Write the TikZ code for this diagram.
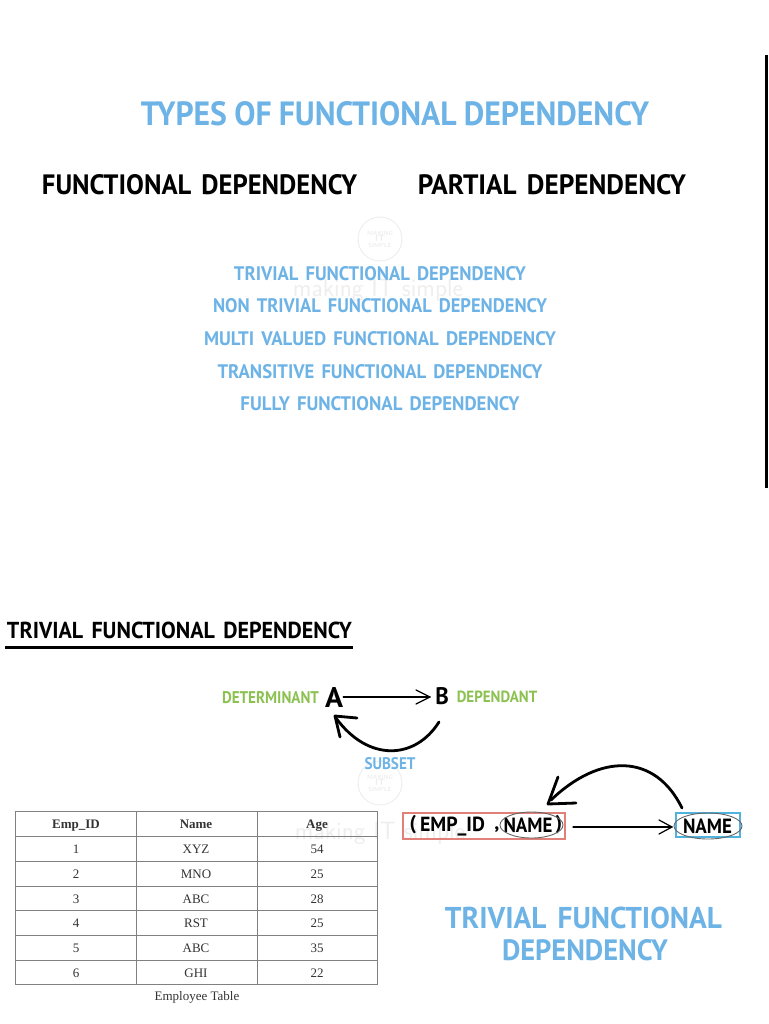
\documentclass[tikz,border=0pt]{standalone}
\usepackage{graphicx}
\usepackage{fontspec}
\setmainfont{Liberation Serif}
\newfontfamily\handfont[WordSpace=1.5]{PT Sans}
\usetikzlibrary{calc,positioning}
\definecolor{skyblue}{HTML}{6DB3E6}
\definecolor{leafgreen}{HTML}{8CC152}
\definecolor{boxred}{HTML}{E08078}
\definecolor{boxblue}{HTML}{4FB3DE}
\definecolor{wmgray}{HTML}{EEEEEE}
% width and cap height of a hand lettered text
\newcommand{\fitbox}[3]{\resizebox{#1pt}{#2pt}{\handfont\bfseries\fontsize{20}{22}\selectfont #3}}
\tikzset{
	hand/.style={font=\handfont\bfseries\fontsize{20}{22}\selectfont,inner sep=0pt,anchor=center},
	bluetext/.style={hand,text=skyblue},
	blacktext/.style={hand,text=black},
	greentext/.style={hand,text=leafgreen},
	cell/.style={font=\fontsize{13}{15}\selectfont,inner sep=0pt,anchor=base,text=black!80},
	headcell/.style={cell,font=\fontsize{13}{15}\selectfont\bfseries},
	grid line/.style={draw=black!50,line width=0.9pt},
	watermark/.style={font=\sffamily\fontsize{25}{27}\selectfont,text=wmgray,inner sep=0pt},
	logo/.style={circle,draw=wmgray,line width=1pt,minimum size=44pt,inner sep=0pt,
		align=center,text=wmgray,font=\sffamily\bfseries\fontsize{6}{7}\selectfont},
	curved/.style={line width=2.8pt,line cap=round,line join=round},
	thin arrow/.style={line width=1.2pt,line cap=round,line join=round},
	ring/.style={black!60,line width=0.9pt}
}
\begin{document}
\begin{tikzpicture}[x=1pt,y=-1pt]
	\useasboundingbox (0,0) rectangle (768,1024);

	% watermarks
	\node[logo] (logoa) at (380,239) {MAKING\\[-1pt]{\fontsize{9}{9}\selectfont IT}\\[-1pt]SIMPLE};
	\node[watermark] (marka) at (378,290) {making IT simple};
	\node[logo] (logob) at (380,783) {MAKING\\[-1pt]{\fontsize{9}{9}\selectfont IT}\\[-1pt]SIMPLE};
	\node[watermark] (markb) at (380,833) {making IT simple};

	% right bar
	\coordinate (bartop) at (766.5,55);
	\coordinate (barend) at (766.5,488);
	\draw[line width=3pt] (bartop) -- (barend);

	% top part
	\node[bluetext] (title) at (395,114) {\fitbox{508}{24}{TYPES\hspace{-3pt} OF\hspace{-3pt} FUNCTIONAL\hspace{-3pt} DEPENDENCY}};
	\node[blacktext] (fd) at (199.5,185) {\fitbox{315}{20}{FUNCTIONAL DEPENDENCY}};
	\node[blacktext] (pd) at (552,185) {\fitbox{268}{20}{PARTIAL DEPENDENCY}};

	\foreach \nm/\yy/\tw/\txt in {
		one/274/292/TRIVIAL FUNCTIONAL DEPENDENCY,
		two/306/334/NON TRIVIAL FUNCTIONAL DEPENDENCY,
		three/339/352/MULTI VALUED FUNCTIONAL DEPENDENCY,
		four/372/325/TRANSITIVE FUNCTIONAL DEPENDENCY,
		five/404/279/FULLY FUNCTIONAL DEPENDENCY}{
		\node[bluetext] (\nm) at (380,\yy) {\fitbox{\tw}{14}{\txt}};
	}

	% lower heading
	\node[blacktext] (head) at (179.5,630) {\fitbox{345}{16.5}{TRIVIAL FUNCTIONAL DEPENDENCY}};
	\coordinate (ruleleft) at (5,647.5);
	\coordinate (ruleright) at (353,647.5);
	\draw[line width=2.5pt] (ruleleft) -- (ruleright);

	% A and B
	\node[blacktext] (A) at (334,697) {\fitbox{18}{20}{A}};
	\node[blacktext] (B) at (442,696.5) {\fitbox{13.5}{17}{B}};
	\node[greentext] (det) at (270.5,698) {\fitbox{97}{12}{DETERMINANT}};
	\node[greentext] (dep) at (497,697) {\fitbox{80.5}{11.5}{DEPENDANT}};
	\node[bluetext] (subset) at (390,764) {\fitbox{51}{12}{SUBSET}};
	\coordinate (headtip) at (430,697);
	\draw[thin arrow] (A.east) -- (headtip);
	\draw[thin arrow] (416,690) -- (headtip) -- (416,704);

	\coordinate (loopstart) at (439,722);
	\coordinate (loopend) at (335,716);
	\coordinate (tipa) at (340,737);
	\coordinate (tipb) at (357,718);
	\draw[curved] (loopstart) .. controls (415,760) and (368,762) .. (336,718);
	\draw[curved] (tipa) -- (loopend) -- (tipb);

	% table
	\foreach \xx in {15,136,257,377}{
		\draw[grid line] (\xx,811) -- (\xx,984.5);
	}
	\foreach \yy in {811,836,861,886,910,935,960,984.5}{
		\draw[grid line] (15,\yy) -- (377,\yy);
	}
	\node[headcell] (hid) at (76,828.5) {Emp\_ID};
	\node[headcell] (hname) at (196,828.5) {Name};
	\node[headcell] (hage) at (317,828.5) {Age};
	\foreach \yy/\id/\nm/\ag in {853.5/1/XYZ/54,878/2/MNO/25,903/3/ABC/28,927.5/4/RST/25,952/5/ABC/35,977/6/GHI/22}{
		\node[cell] (id\id) at (76,\yy) {\id};
		\node[cell] (name\id) at (196,\yy) {\nm};
		\node[cell] (age\id) at (317,\yy) {\ag};
	}
	\node[cell] (caption) at (197,1000.5) {Employee Table};

	% left box
	\node[draw=boxred,line width=1.3pt,minimum width=162pt,minimum height=26pt,inner sep=0pt] (leftbox) at (484,826) {};
	\node[blacktext] (opena) at (413,825) {(};
	\node[blacktext] (empid) at (452.5,826.5) {\fitbox{65}{14.5}{EMP\_ID}};
	\node[blacktext] (comma) at (497,830) {,};
	\node[blacktext] (namea) at (528,825.5) {\fitbox{49}{14.5}{NAME}};
	\node[blacktext] (closea) at (559,825) {)};
	\draw[ring] (531.5,825) ellipse (31.5pt and 13pt);

	% right box
	\node[draw=boxblue,line width=1.5pt,minimum width=64pt,minimum height=24pt,inner sep=0pt] (rightbox) at (708,825) {};
	\node[blacktext] (nameb) at (707.5,826) {\fitbox{49}{14.5}{NAME}};
	\draw[ring] (708,826) ellipse (34pt and 13pt);

	\coordinate (arrowfrom) at (573,827);
	\coordinate (arrowto) at (672,827);
	\draw[thin arrow] (arrowfrom) -- (arrowto);
	\draw[thin arrow] (659,820) -- (arrowto) -- (659,834);

	\coordinate (swingstart) at (682,808);
	\coordinate (swingend) at (548,804);
	\draw[curved] (swingstart) .. controls (655,753) and (600,753) .. (551,800);
	\draw[curved] (558,777) -- (swingend) -- (576,803);

	\node[bluetext] (biga) at (583.5,917.5) {\fitbox{277}{21.5}{TRIVIAL FUNCTIONAL}};
	\node[bluetext] (bigb) at (585,950) {\fitbox{166}{21}{DEPENDENCY}};
\end{tikzpicture}
\end{document}
